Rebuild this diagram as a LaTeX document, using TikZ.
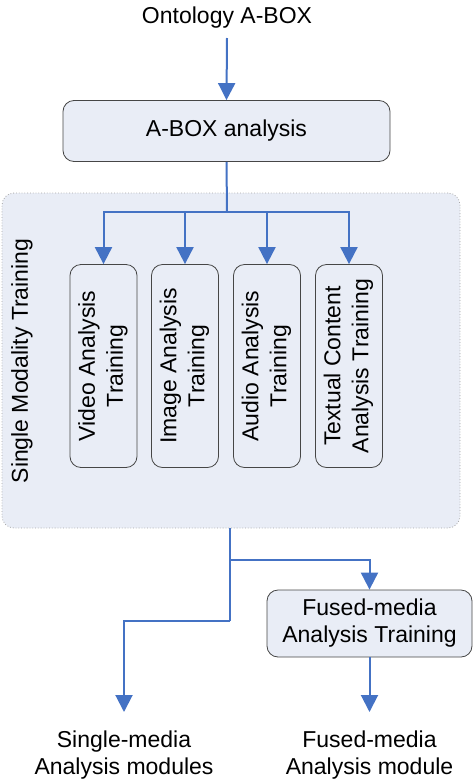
\documentclass[tikz,border=0pt]{standalone}
\usepackage{fontspec}
\setmainfont{Liberation Sans}
\usepackage{graphicx}
\usetikzlibrary{arrows.meta,positioning}
\definecolor{flowblue}{RGB}{68,114,196}
\definecolor{boxfill}{RGB}{233,237,246}
\definecolor{boxline}{RGB}{70,70,70}
\begin{document}
\begin{tikzpicture}[x=1pt,y=-1pt,
  txt/.style={font=\fontsize{23}{27}\selectfont,align=center},
  rbox/.style={txt,draw=boxline,line width=0.8pt,fill=boxfill,rounded corners=11pt,inner sep=0pt},
  conn/.style={draw=flowblue,line width=2pt},
  arr/.style={conn,-{Triangle[width=17pt,length=17pt]}},
  outtxt/.style={txt,inner xsep=0pt,inner ysep=19pt,anchor=north}]
\useasboundingbox (0,0) rectangle (474,782);
% container
\node[draw=gray!70,dotted,line width=0.8pt,fill=boxfill,rounded corners=12pt,
      minimum width=458pt,minimum height=335pt,inner sep=0pt] (cont) at (231,360.5) {};
\node[txt,rotate=90] (smt) at (22,361) {Single Modality Training};
% top
\node[txt] (onto) at (227,18) {Ontology A-BOX};
\node[rbox,minimum width=327pt,minimum height=61pt] (abox) at (226.5,131) {A-BOX analysis};
% single modality boxes
\node[rbox,minimum width=67pt,minimum height=203pt] (vid) at (103.5,366) {\rotatebox{90}{\begin{tabular}{@{}c@{}}Video Analysis\\[1pt]Training\end{tabular}}};
\node[rbox,minimum width=67pt,minimum height=203pt] (img) at (185,366) {\rotatebox{90}{\begin{tabular}{@{}c@{}}Image Analysis\\[1pt]Training\end{tabular}}};
\node[rbox,minimum width=67pt,minimum height=203pt] (aud) at (267,366) {\rotatebox{90}{\begin{tabular}{@{}c@{}}Audio Analysis\\[1pt]Training\end{tabular}}};
\node[rbox,minimum width=67pt,minimum height=203pt] (tex) at (349,366) {\rotatebox{90}{\begin{tabular}{@{}c@{}}Textual Content\\[1pt]Analysis Training\end{tabular}}};
% fused
\node[rbox,minimum width=205pt,minimum height=67pt] (fus) at (369.5,623.5) {Fused-media\\Analysis Training};
% outputs
\node[outtxt] (sm) at (124,712) {Single-media\\Analysis modules};
\node[outtxt] (fm) at (369.5,712) {Fused-media\\Analysis module};
% connectors
\coordinate (s1) at (227,212);
\coordinate (s2) at (230,560);
\coordinate (s3) at (230,621);
\draw[arr] (onto.south |- 0,38) -- (abox.north);
\draw[conn] (abox.south) -- (s1);
\draw[conn] (vid.north |- s1) -- (tex.north |- s1);
\draw[arr] (s1) -| (vid.north);
\draw[arr] (s1) -| (img.north);
\draw[arr] (s1) -| (aud.north);
\draw[arr] (s1) -| (tex.north);
\draw[conn] (s2 |- cont.south) -- (s2);
\draw[arr] (s2) -| (fus.north);
\draw[conn] (s2) -- (s3);
\draw[arr] (s3) -| (sm.north);
\draw[arr] (fus.south) -- (fm.north);
\end{tikzpicture}
\end{document}
